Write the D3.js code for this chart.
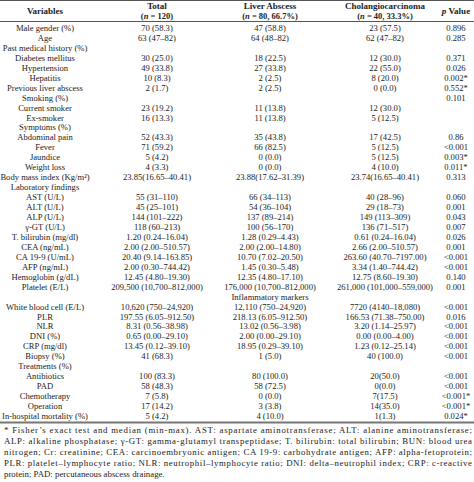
<!DOCTYPE html>
<html lang="en">
<head>
    <meta charset="UTF-8">
    <title>Table</title>
    <script src="https://d3js.org/d3.v7.min.js"></script>
    <style>
        body { margin: 0; background: #fff; }
        text { font-family: "Liberation Serif", "DejaVu Serif", serif; fill: #222; }
    </style>
</head>
<body>
    <script>
        // column headers
        const headers = [
            ['Variables', ''],
            ['Total', '(n = 120)'],
            ['Liver Abscess', '(n = 80, 66.7%)'],
            ['Cholangiocarcinoma', '(n = 40, 33.3%)'],
            ['p Value', '']
        ];
        // rows: variable, total, liver abscess, cholangiocarcinoma, p
        const variables = ['Male gender (%)', 'Age', 'Past medical history (%)', 'Diabetes mellitus', 'Hypertension', 'Hepatitis',
            'Previous liver abscess', 'Smoking (%)', 'Current smoker', 'Ex-smoker', 'Symptoms (%)', 'Abdominal pain', 'Fever',
            'Jaundice', 'Weight loss', 'Body mass index (Kg/m²)', 'Laboratory findings', 'AST (U/L)', 'ALT (U/L)', 'ALP (U/L)',
            'γ-GT (U/L)', 'T. bilirubin (mg/dl)', 'CEA (ng/mL)', 'CA 19-9 (U/mL)', 'AFP (ng/mL)', 'Hemoglobin (g/dL)', 'Platelet (E/L)',
            'Inflammatory markers', 'White blood cell (E/L)', 'PLR', 'NLR', 'DNI (%)', 'CRP (mg/dl)', 'Biopsy (%)', 'Treatments (%)',
            'Antibiotics', 'PAD', 'Chemotherapy', 'Operation', 'In-hospital mortality (%)'];
        const total = ['70 (58.3)', '63 (47–82)', '', '30 (25.0)', '49 (33.8)', '10 (8.3)', '2 (1.7)', '', '23 (19.2)', '16 (13.3)', '',
            '52 (43.3)', '71 (59.2)', '5 (4.2)', '4 (3.3)', '23.85(16.65–40.41)', '', '55 (31–110)', '45 (25–101)', '144 (101–222)',
            '118 (60–213)', '1.20 (0.24–16.04)', '2.00 (2.00–510.57)', '20.40 (9.14–163.85)', '2.00 (0.30–744.42)', '12.45 (4.80–19.30)',
            '209,500 (10,700–812,000)', '', '10,620 (750–24,920)', '197.55 (6.05–912.50)', '8.31 (0.56–38.98)', '0.65 (0.00–29.10)',
            '13.45 (0.12–39.10)', '41 (68.3)', '', '100 (83.3)', '58 (48.3)', '7 (5.8)', '17 (14.2)', '5 (4.2)'];
        const liver = ['47 (58.8)', '64 (48–82)', '', '18 (22.5)', '27 (33.8)', '2 (2.5)', '2 (2.5)', '', '11 (13.8)', '11 (13.8)', '',
            '35 (43.8)', '66 (82.5)', '0 (0.0)', '0 (0.0)', '23.88(17.62–31.39)', '', '66 (34–113)', '54 (36–104)', '137 (89–214)',
            '100 (56–170)', '1.28 (0.29–4.43)', '2.00 (2.00–14.80)', '10.70 (7.02–20.50)', '1.45 (0.30–5.48)', '12.35 (4.80–17.10)',
            '176,000 (10,700–812,000)', '', '12,110 (750–24,920)', '218.13 (6.05–912.50)', '13.02 (0.56–3.98)', '2.00 (0.00–29.10)',
            '18.95 (0.29–39.10)', '1 (5.0)', '', '80 (100.0)', '58 (72.5)', '0 (0.0)', '3 (3.8)', '4 (10.0)'];
        const cholangio = ['23 (57.5)', '62 (47–82)', '', '12 (30.0)', '22 (55.0)', '8 (20.0)', '0 (0.0)', '', '12 (30.0)', '5 (12.5)', '',
            '17 (42.5)', '5 (12.5)', '5 (12.5)', '4 (10.0)', '23.74(16.65–40.41)', '', '40 (28–96)', '29 (18–73)', '149 (113–309)',
            '136 (71–517)', '0.61 (0.24–16.04)', '2.66 (2.00–510.57)', '263.60 (40.70–7197.00)', '3.34 (1.40–744.42)', '12.75 (8.60–19.30)',
            '261,000 (101,000–559,000)', '', '7720 (4140–18,080)', '166.53 (71.38–750.00)', '3.20 (1.14–25.97)', '0.00 (0.00–4.00)',
            '1.23 (0.12–25.14)', '40 (100.0)', '', '20(50.0)', '0(0.0)', '7(17.5)', '14(35.0)', '1(1.3)'];
        const pValues = ['0.896', '0.285', '', '0.371', '0.026', '0.002*', '0.552*', '0.101', '', '', '',
            '0.86', '<0.001', '0.003*', '0.011*', '0.313', '', '0.060', '0.001', '0.043',
            '0.007', '0.026', '0.001', '<0.001', '<0.001', '0.140', '0.001', '', '<0.001', '0.016', '<0.001', '<0.001',
            '<0.001', '<0.001', '', '<0.001', '<0.001', '<0.001*', '<0.001*', '0.024*'];
        const footnote = [
            '* Fisher’s exact test and median (min-max).  AST: aspartate aminotransferase; ALT: alanine aminotransferase;',
            'ALP: alkaline phosphatase; γ-GT: gamma-glutamyl transpeptidase; T. bilirubin: total bilirubin; BUN: blood urea',
            'nitrogen; Cr: creatinine; CEA: carcinoembryonic antigen; CA 19-9: carbohydrate antigen; AFP: alpha-fetoprotein;',
            'PLR: platelet–lymphocyte ratio; NLR: neutrophil–lymphocyte ratio; DNI: delta–neutrophil index; CRP: c-reactive',
            'protein; PAD: percutaneous abscess drainage.'
        ];

        const width = 474, height = 482;
        const colX = [45, 157, 270, 385, 456];
        const svg = d3.select('body').append('svg').attr('width', width).attr('height', height);

        // row positions
        const y = d3.scaleLinear().domain([0, variables.length - 1]).range([31, 419]);

        // rules
        svg.append('line').attr('x1', 0).attr('x2', width).attr('y1', 0.5).attr('y2', 0.5).attr('stroke', '#555');
        svg.append('line').attr('x1', 0).attr('x2', width).attr('y1', 21.5).attr('y2', 21.5).attr('stroke', '#555');
        svg.append('line').attr('x1', 0).attr('x2', width).attr('y1', 422.5).attr('y2', 422.5).attr('stroke', '#777').attr('stroke-width', 2);

        // headers
        headers.forEach((h, i) => {
            const two = h[1] !== '';
            const t = svg.append('text').attr('x', colX[i]).attr('y', two ? 9 : 14)
                .attr('text-anchor', 'middle').attr('font-size', 9).attr('font-weight', 'bold');
            if (i === 4) {
                t.append('tspan').attr('font-style', 'italic').text('p');
                t.append('tspan').text(' Value');
            } else t.text(h[0]);
            if (two) {
                const m = h[1].match(/^\((n)(.*)$/);
                const t2 = svg.append('text').attr('x', colX[i]).attr('y', 18.5)
                    .attr('text-anchor', 'middle').attr('font-size', 8.5).attr('font-weight', 'bold');
                t2.append('tspan').text('(');
                t2.append('tspan').attr('font-style', 'italic').text(m[1]);
                t2.append('tspan').text(m[2]);
            }
        });

        // body rows
        const cols = [variables, total, liver, cholangio, pValues];
        cols.forEach((col, ci) => {
            svg.append('g').selectAll('text').data(col).enter().append('text')
                .attr('x', (d, i) => (ci === 0 && d === 'Inflammatory markers') ? colX[2] : colX[ci])
                .attr('y', (d, i) => y(i))
                .attr('text-anchor', 'middle')
                .attr('font-size', 8.6)
                .text(d => d);
        });

        // footnote
        svg.append('g').selectAll('text').data(footnote).enter().append('text')
            .attr('x', 4)
            .attr('y', (d, i) => 433 + i * 11.1)
            .attr('font-size', 8.8)
            .attr('textLength', (d, i) => i < footnote.length - 1 ? 468 : null)
            .attr('lengthAdjust', 'spacing')
            .text(d => d);
    </script>
</body>
</html>
